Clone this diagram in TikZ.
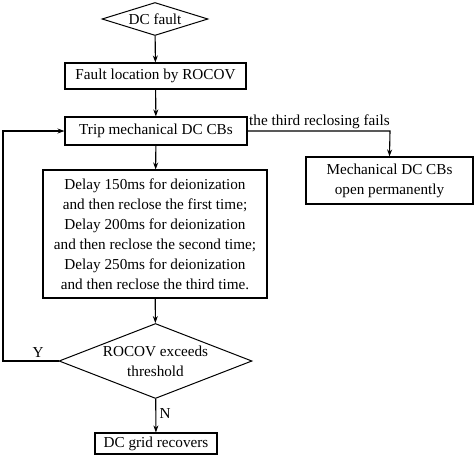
\documentclass[tikz,border=0pt]{standalone}
\usepackage{fontspec}
\setmainfont{Liberation Serif}
\usetikzlibrary{shapes.geometric,arrows.meta}
\begin{document}
\begin{tikzpicture}[x=1pt,y=-1pt,
  every node/.style={font=\fontsize{15.2}{20}\selectfont},
  box/.style={draw,line width=1.1pt,inner sep=0pt,align=center},
  conn/.style={line width=1.1pt,-{Stealth[length=7pt,width=5pt]}},
  plain/.style={line width=1.1pt}]
\useasboundingbox (0,0) rectangle (474,456);
\node[draw,line width=1pt,diamond,aspect=3.2,inner sep=0pt,minimum width=106pt,minimum height=33pt] (start) at (155,19) {DC fault};
\node[box,minimum width=181pt,minimum height=26pt] (loc) at (155.5,76) {Fault location by ROCOV};
\node[box,minimum width=182pt,minimum height=28pt] (trip) at (156,131) {Trip mechanical DC CBs};
\node[box,minimum width=224pt,minimum height=128pt] (delay) at (155,234) {Delay 150ms for deionization\\and then reclose the first time;\\Delay 200ms for deionization\\and then reclose the second time;\\Delay 250ms for deionization\\and then reclose the third time.};
\node[draw,line width=1pt,diamond,aspect=2.57,inner sep=0pt,minimum width=193pt,minimum height=75pt,align=center] (dec) at (155.5,361) {ROCOV exceeds\\threshold};
\node[box,minimum width=122pt,minimum height=21pt] (rec) at (156,443.5) {DC grid recovers};
\node[box,minimum width=167pt,minimum height=47pt] (mech) at (389.5,180.5) {Mechanical DC CBs\\open permanently};
\coordinate (c1) at (390,131);
\coordinate (l1) at (3,361);
\coordinate (l2) at (3,131);
\draw[conn] (start) -- (loc);
\draw[conn] (loc) -- (trip);
\draw[conn] (trip) -- (delay);
\draw[conn] (delay) -- (dec);
\draw[conn] (dec) -- node[right,pos=0.45]{N} (rec);
\draw[conn] (trip.east) -- (c1) -- (mech.north);
\draw[conn] (dec.west) -- (l1) -- (l2) -- (trip.west);
\node[anchor=south west,inner sep=1pt] (lab) at (248,130) {the third reclosing fails};
\node[anchor=south,inner sep=1pt] (y) at (38,359) {Y};
\end{tikzpicture}
\end{document}
